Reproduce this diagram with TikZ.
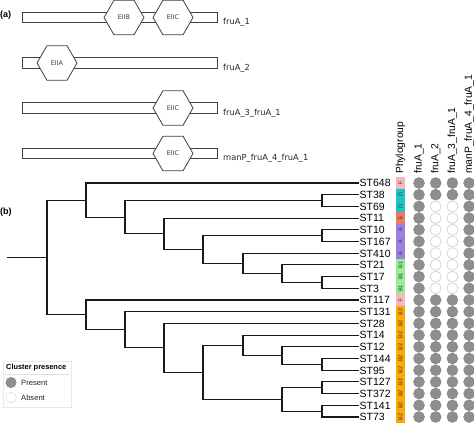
\documentclass[tikz,border=0pt]{standalone}
\usepackage{fontspec}
\setmainfont{Liberation Sans}
\newfontfamily\dvs{DejaVu Sans}
\usetikzlibrary{shapes.geometric}
\definecolor{pF}{HTML}{F7B6C2}
\definecolor{pD}{HTML}{1EC3C3}
\definecolor{pE}{HTML}{F07860}
\definecolor{pA}{HTML}{9B80E0}
\definecolor{pBa}{HTML}{98EE98}
\definecolor{pBb}{HTML}{FFA800}
\definecolor{presc}{HTML}{8E8E8E}
\definecolor{absc}{HTML}{CCCCCC}
\definecolor{outl}{HTML}{404040}
\begin{document}
\begin{tikzpicture}[x=1pt,y=-1pt,
  bar/.style={draw=outl, line width=0.8pt, fill=white, minimum width=195pt, minimum height=10.4pt, inner sep=0pt, anchor=west},
  hexa/.style={regular polygon, regular polygon sides=6, minimum size=40pt, inner sep=0pt, draw=outl, line width=0.8pt, fill=white, font=\dvs\fontsize{6.5}{7}\selectfont, text=outl},
  genelab/.style={anchor=base west, inner sep=0pt, font=\dvs\fontsize{8.3}{9}\selectfont, text=black!85},
  panel/.style={anchor=west, inner sep=0pt, font=\bfseries\fontsize{9}{10}\selectfont},
  branch/.style={line width=1.05pt, draw=black!90},
  tip/.style={anchor=west, inner sep=0.5pt, text height=7.6pt, text depth=0pt, font=\fontsize{10.5}{12}\selectfont},
  head/.style={rotate=90, anchor=west, inner sep=0pt, font=\fontsize{10.3}{12}\selectfont},
  cell/.style={rotate=90, minimum width=11.9pt, minimum height=9pt, inner sep=0pt, font=\fontsize{5.5}{6}\selectfont, text=black!80},
  pres/.style={circle, minimum size=11pt, inner sep=0pt, fill=presc, draw=presc!90!black, line width=0.4pt},
  abs/.style={circle, minimum size=11pt, inner sep=0pt, fill=white, draw=absc, line width=0.6pt},
  legtext/.style={anchor=west, inner sep=0pt, font=\fontsize{7.6}{9}\selectfont, text=black!85},
]
\useasboundingbox (0,0) rectangle (474,424);

% ---------- panel (a) ----------
\node[panel] (la) at (0,15.5) {(a)};
\node[bar] (b1) at (22,17.5) {};
\node[hexa] (h11) at (124,17.5) {EIIB};
\node[hexa] (h12) at (173,17.5) {EIIC};
\node[genelab] (g1) at (223,24.5) {fruA\_1};

\node[bar] (b2) at (22,63) {};
\node[hexa] (h21) at (57,63) {EIIA};
\node[genelab] (g2) at (223,70) {fruA\_2};

\node[bar] (b3) at (22,108) {};
\node[hexa] (h31) at (173,108) {EIIC};
\node[genelab] (g3) at (223,115) {fruA\_3\_fruA\_1};

\node[bar] (b4) at (22,153.5) {};
\node[hexa] (h41) at (173,153.5) {EIIC};
\node[genelab] (g4) at (223,160) {manP\_fruA\_4\_fruA\_1};

% ---------- panel (b) ----------
\node[panel] (lb) at (0,212) {(b)};

\foreach \n [count=\i from 0] in {ST648,ST38,ST69,ST11,ST10,ST167,ST410,ST21,ST17,ST3,ST117,ST131,ST28,ST14,ST12,ST144,ST95,ST127,ST372,ST141,ST73}
  \node[tip] (t\i) at (359,{183+11.7*\i}) {\n};

% internal nodes
\coordinate (C) at (322,200.55);
\coordinate (F) at (322,235.65);
\coordinate (I) at (322,282.45);
\coordinate (H) at (282,273.675);
\coordinate (G) at (243,263.44);
\coordinate (E) at (203,249.54);
\coordinate (D) at (164,233.82);
\coordinate (B) at (125,217.19);
\coordinate (A) at (86,200.09);
\coordinate (Q) at (322,364.35);
\coordinate (P) at (282,355.58);
\coordinate (N) at (243,345.34);
\coordinate (R) at (322,387.75);
\coordinate (S) at (322,411.15);
\coordinate (O) at (282,399.45);
\coordinate (M) at (203,372.39);
\coordinate (L) at (164,347.9);
\coordinate (K) at (125,329.8);
\coordinate (J) at (86,314.9);
\coordinate (root) at (47,257.5);
\coordinate (r0) at (7,257.5);

\begin{scope}[branch]
\draw (t0.west) -| (A);
\draw (t1.west) -| (C); \draw (t2.west) -| (C);
\draw (C) -| (B);
\draw (t3.west) -| (D);
\draw (t4.west) -| (F); \draw (t5.west) -| (F);
\draw (F) -| (E);
\draw (t6.west) -| (G);
\draw (t7.west) -| (H);
\draw (t8.west) -| (I); \draw (t9.west) -| (I);
\draw (I) -| (H);
\draw (H) -| (G);
\draw (G) -| (E);
\draw (E) -| (D);
\draw (D) -| (B);
\draw (B) -| (A);
\draw (t10.west) -| (J);
\draw (t11.west) -| (K);
\draw (t12.west) -| (L);
\draw (t13.west) -| (N);
\draw (t14.west) -| (P);
\draw (t15.west) -| (Q); \draw (t16.west) -| (Q);
\draw (Q) -| (P);
\draw (P) -| (N);
\draw (t17.west) -| (R); \draw (t18.west) -| (R);
\draw (t19.west) -| (S); \draw (t20.west) -| (S);
\draw (R) -| (O); \draw (S) -| (O);
\draw (N) -| (M); \draw (O) -| (M);
\draw (M) -| (L);
\draw (L) -| (K);
\draw (K) -| (J);
\draw (A) -| (root); \draw (J) -| (root);
\draw (r0) -- (root);
\end{scope}

% phylogroup column
\foreach \l/\c [count=\i from 0] in {F/pF,D/pD,D/pD,E/pE,A/pA,A/pA,A/pA,B1/pBa,B1/pBa,B1/pBa,F/pF,B2/pBb,B2/pBb,B2/pBb,B2/pBb,B2/pBb,B2/pBb,B2/pBb,B2/pBb,B2/pBb,B2/pBb}
  \node[cell, fill=\c] (p\i) at (400.5,{183+11.7*\i}) {\l};

% column headers
\node[head] (hp) at (400.5,174) {Phylogroup};
\node[head] (hc1) at (419,174) {fruA\_1};
\node[head] (hc2) at (435.7,174) {fruA\_2};
\node[head] (hc3) at (452.4,174) {fruA\_3\_fruA\_1};
\node[head] (hc4) at (469.1,174) {manP\_fruA\_4\_fruA\_1};

% presence circles
\foreach \i in {0,...,20} {
  \node[pres] (ca\i) at (419,{183+11.7*\i}) {};
  \node[pres] (cd\i) at (469.1,{183+11.7*\i}) {};
}
\foreach \i in {0,1,10,11,12,13,14,15,16,17,18,19,20} {
  \node[pres] (cb\i) at (435.7,{183+11.7*\i}) {};
  \node[pres] (cc\i) at (452.4,{183+11.7*\i}) {};
}
\foreach \i in {2,...,9} {
  \node[abs] (cb\i) at (435.7,{183+11.7*\i}) {};
  \node[abs] (cc\i) at (452.4,{183+11.7*\i}) {};
}

% legend
\draw[draw=black!9, fill=white, line width=0.6pt] (3,361) rectangle (71,407);
\node[legtext, font=\bfseries\fontsize{7.4}{9}\selectfont, text=black] (lt) at (6,367.5) {Cluster presence};
\draw[draw=black!12, line width=0.6pt] (5,374.5) -- (69,374.5);
\node[pres, minimum size=10.5pt] (lp) at (11,382.5) {};
\node[legtext] (lpt) at (21,382.5) {Present};
\node[abs, minimum size=10.5pt, draw=black!12] (la2) at (11,397.5) {};
\node[legtext] (lat) at (21,397.5) {Absent};
\end{tikzpicture}
\end{document}
